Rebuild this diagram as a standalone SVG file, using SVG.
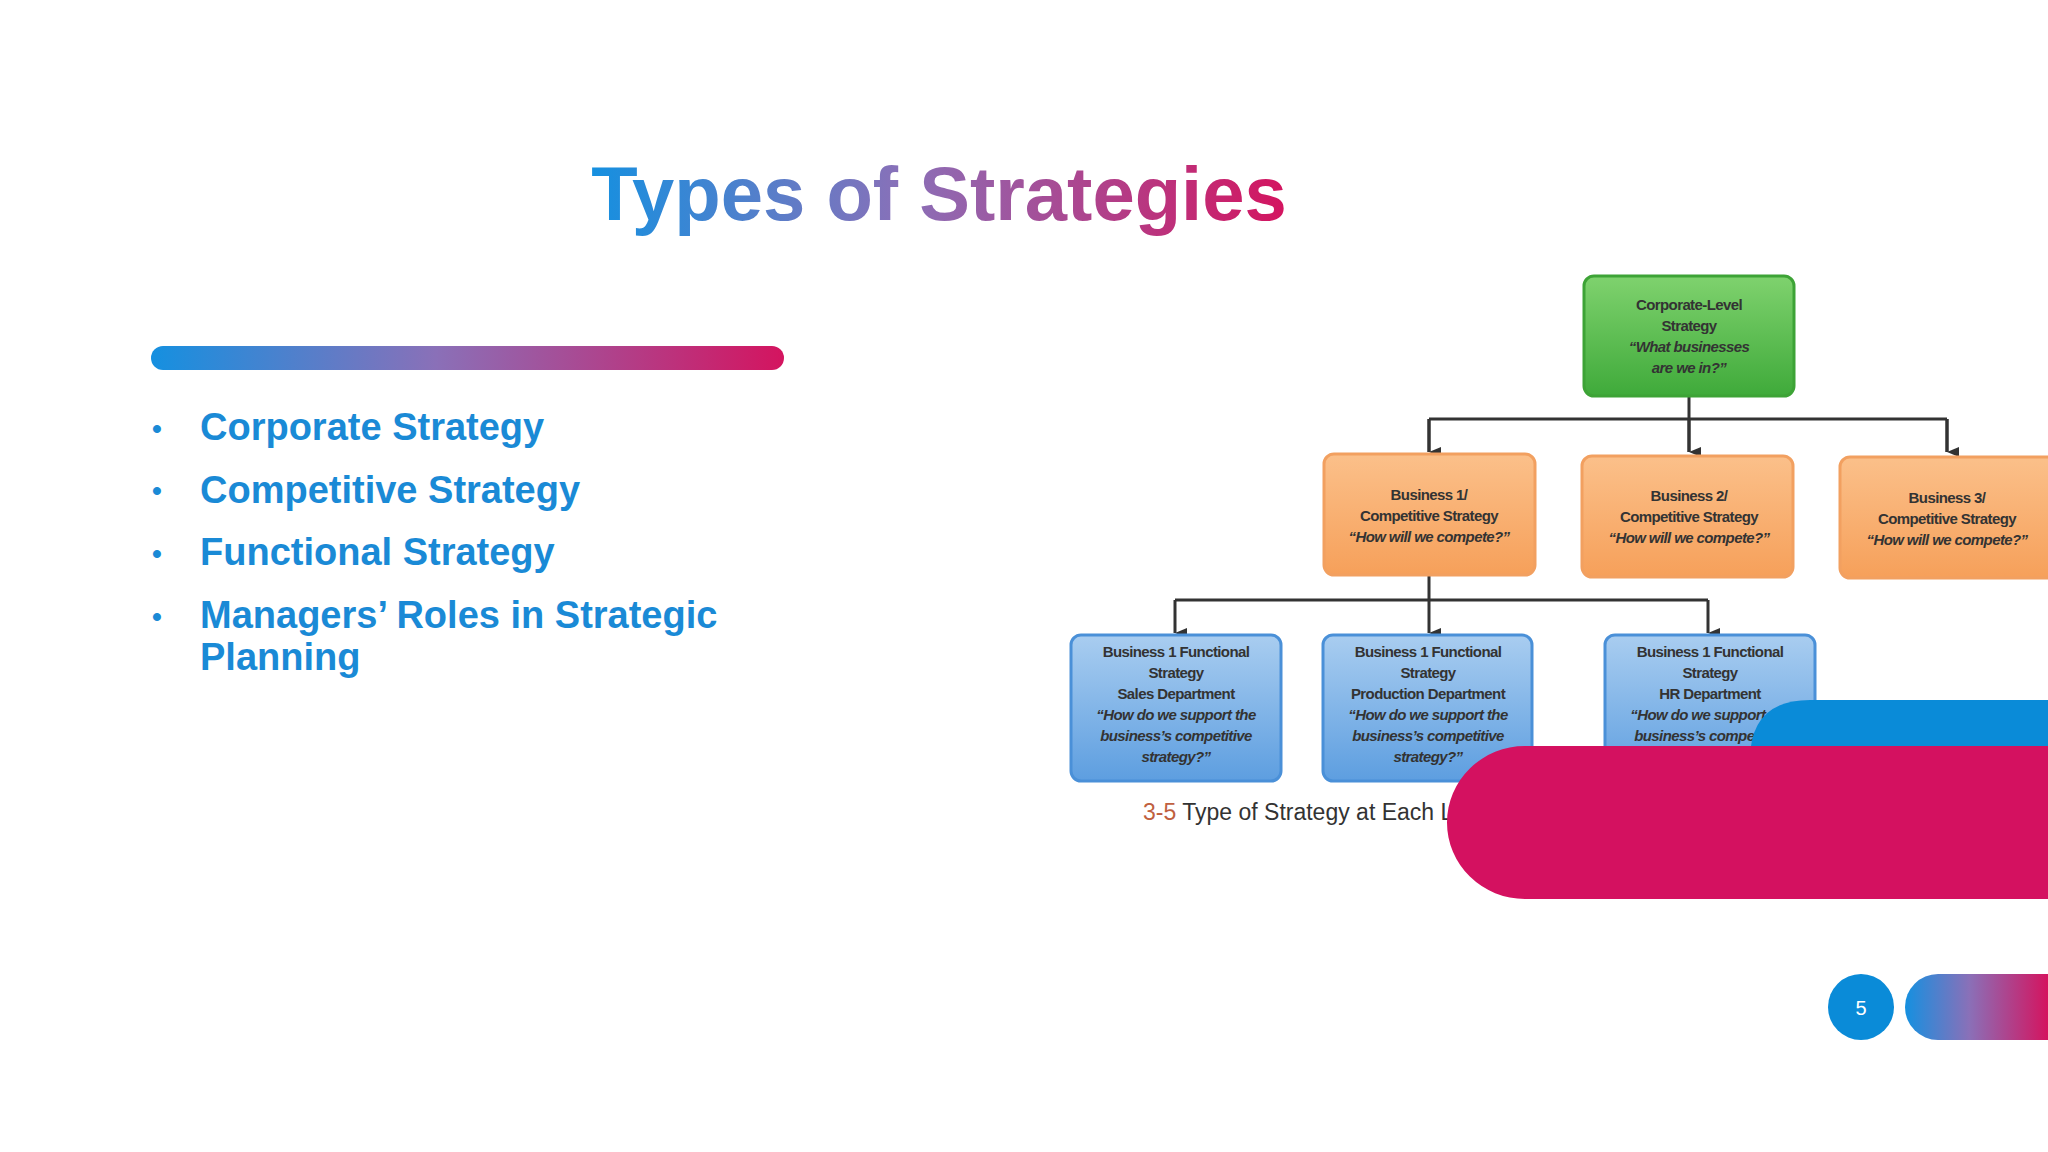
<svg xmlns="http://www.w3.org/2000/svg" width="2048" height="1152" viewBox="0 0 2048 1152">
<defs>
<linearGradient id="g" x1="0" x2="1" y1="0" y2="0"><stop offset="0" stop-color="#1590e0"/><stop offset="0.45" stop-color="#8a70b8"/><stop offset="1" stop-color="#d4145f"/></linearGradient>
<linearGradient id="gr" x1="0" y1="0" x2="0" y2="1"><stop offset="0" stop-color="#7fd26e"/><stop offset="1" stop-color="#3faa3a"/></linearGradient>
<linearGradient id="or" x1="0" y1="0" x2="0" y2="1"><stop offset="0" stop-color="#fbc08a"/><stop offset="1" stop-color="#f6a05a"/></linearGradient>
<linearGradient id="bl" x1="0" y1="0" x2="0" y2="1"><stop offset="0" stop-color="#a9cdf0"/><stop offset="1" stop-color="#5d9ee0"/></linearGradient>
<marker id="a" markerWidth="10" markerHeight="12" refX="5" refY="12" orient="auto-start-reverse" markerUnits="userSpaceOnUse" viewBox="0 0 10 12"><path d="M0,0 L10,0 L5,12 z" fill="#333"/></marker>
<style>
.t{font-family:"Liberation Sans",Arial,sans-serif;font-weight:bold}
.b{font-size:38px;fill:#1a8ad6}
.n{font-family:"Liberation Sans",Arial,sans-serif;font-weight:bold;font-size:15px;fill:#333;text-anchor:middle;letter-spacing:-0.6px}
.i{font-style:italic}
.c{stroke:#333;stroke-width:3;fill:none}
</style>
</defs>
<rect width="2048" height="1152" fill="#fff"/>
<text x="939" y="220" class="t" font-size="76" text-anchor="middle" fill="url(#g)">Types of Strategies</text>
<rect x="151" y="346" width="633" height="24" rx="12" fill="url(#g)"/>
<g class="t b">
<text x="152" y="438" font-size="28">•</text><text x="200" y="440">Corporate Strategy</text>
<text x="152" y="500" font-size="28">•</text><text x="200" y="503">Competitive Strategy</text>
<text x="152" y="563" font-size="28">•</text><text x="200" y="565">Functional Strategy</text>
<text x="152" y="626" font-size="28">•</text><text x="200" y="628">Managers’ Roles in Strategic</text>
<text x="200" y="670">Planning</text>
</g>
<g id="connectors">
<path class="c" d="M1689,396 V419 M1429,419 H1947 M1429,419 V452 M1689,419 V452 M1947,419 V452" marker-end="none"/>
<path class="c" d="M1429,419 V452" marker-end="url(#a)"/><path class="c" d="M1689,419 V452" marker-end="url(#a)"/><path class="c" d="M1947,419 V452" marker-end="url(#a)"/>
<path class="c" d="M1429,575 V600 M1175,600 H1708"/>
<path class="c" d="M1175,600 V633" marker-end="url(#a)"/><path class="c" d="M1429,600 V633" marker-end="url(#a)"/><path class="c" d="M1708,600 V633" marker-end="url(#a)"/>
</g>
<g id="corp"><rect x="1584" y="276" width="210" height="120" rx="10" fill="url(#gr)" stroke="#3da336" stroke-width="3"/>
<text class="n" x="1689" y="310">Corporate-Level</text><text class="n" x="1689" y="331">Strategy</text><text class="n i" x="1689" y="352">“What businesses</text><text class="n i" x="1689" y="373">are we in?”</text></g>
<g id="b1"><rect x="1324" y="454" width="211" height="121" rx="10" fill="url(#or)" stroke="#f2a060" stroke-width="3"/>
<text class="n" x="1429" y="500">Business 1/</text><text class="n" x="1429" y="521">Competitive Strategy</text><text class="n i" x="1429" y="542">“How will we compete?”</text></g>
<g id="b2"><rect x="1582" y="456" width="211" height="121" rx="10" fill="url(#or)" stroke="#f2a060" stroke-width="3"/>
<text class="n" x="1689" y="501">Business 2/</text><text class="n" x="1689" y="522">Competitive Strategy</text><text class="n i" x="1689" y="543">“How will we compete?”</text></g>
<g id="b3"><rect x="1840" y="457" width="220" height="121" rx="10" fill="url(#or)" stroke="#f2a060" stroke-width="3"/>
<text class="n" x="1947" y="503">Business 3/</text><text class="n" x="1947" y="524">Competitive Strategy</text><text class="n i" x="1947" y="545">“How will we compete?”</text></g>
<g id="f1"><rect x="1071" y="635" width="210" height="146" rx="10" fill="url(#bl)" stroke="#4a90d8" stroke-width="3"/>
<text class="n" x="1176" y="657">Business 1 Functional</text><text class="n" x="1176" y="678">Strategy</text><text class="n" x="1176" y="699">Sales Department</text><text class="n i" x="1176" y="720">“How do we support the</text><text class="n i" x="1176" y="741">business’s competitive</text><text class="n i" x="1176" y="762">strategy?”</text></g>
<g id="f2"><rect x="1323" y="635" width="209" height="146" rx="10" fill="url(#bl)" stroke="#4a90d8" stroke-width="3"/>
<text class="n" x="1428" y="657">Business 1 Functional</text><text class="n" x="1428" y="678">Strategy</text><text class="n" x="1428" y="699">Production Department</text><text class="n i" x="1428" y="720">“How do we support the</text><text class="n i" x="1428" y="741">business’s competitive</text><text class="n i" x="1428" y="762">strategy?”</text></g>
<g id="f3"><rect x="1605" y="635" width="210" height="146" rx="10" fill="url(#bl)" stroke="#4a90d8" stroke-width="3"/>
<text class="n" x="1710" y="657">Business 1 Functional</text><text class="n" x="1710" y="678">Strategy</text><text class="n" x="1710" y="699">HR Department</text><text class="n i" x="1710" y="720">“How do we support the</text><text class="n i" x="1710" y="741">business’s competitive</text><text class="n i" x="1710" y="762">strategy?”</text></g>
<text x="1143" y="820" font-family="Liberation Sans,Arial,sans-serif" font-size="23" fill="#333"><tspan fill="#c06040">3-5</tspan> Type of Strategy at Each Level</text>
<path d="M1750,760 Q1750,700 1810,700 H2048 V800 H1750 Z" fill="#0a8bd8"/>
<path d="M1525,746 H2048 V899 H1525 A78,76.5 0 0 1 1525,746 Z" fill="#d41160"/>
<circle cx="1861" cy="1007" r="33" fill="#0a8bd8"/>
<text x="1861" y="1015" font-family="Liberation Sans,Arial,sans-serif" font-size="20" fill="#fff" text-anchor="middle">5</text>
<path d="M1938,974 H2048 V1040 H1938 A33,33 0 0 1 1938,974 Z" fill="url(#g)"/>
</svg>
